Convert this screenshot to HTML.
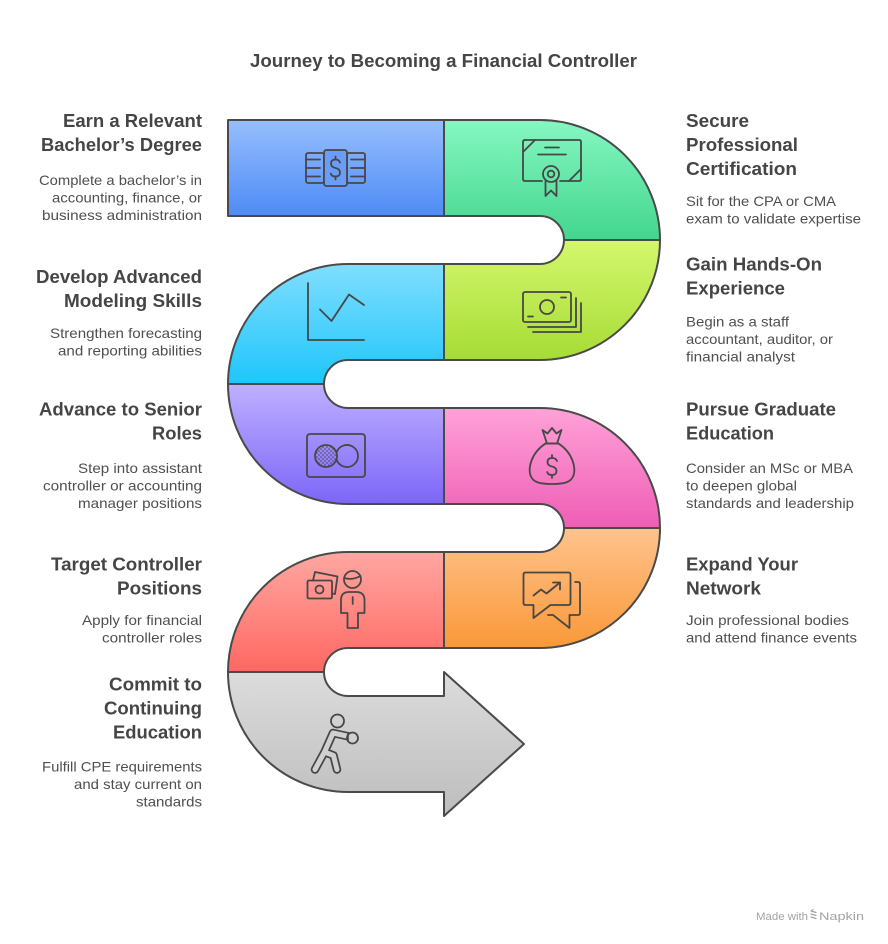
<!DOCTYPE html>
<html>
<head>
<meta charset="utf-8">
<style>
  html,body{margin:0;padding:0;background:#fff;}
  svg{display:block;}
  .h{font-family:"Liberation Sans",Arial,sans-serif;font-weight:bold;font-size:18px;fill:#454545;}
  .d{font-family:"Liberation Sans",Arial,sans-serif;font-size:14px;fill:#4f4f4f;}
  .seg{stroke:#4a4a4a;stroke-width:2;stroke-linejoin:round;}
  .ic{fill:none;stroke:#474747;stroke-width:1.8;stroke-linecap:round;stroke-linejoin:round;}
</style>
</head>
<body>
<svg width="888" height="944" viewBox="0 0 888 944" xmlns="http://www.w3.org/2000/svg">
  <defs>
    <linearGradient id="g1" gradientUnits="userSpaceOnUse" x1="0" y1="120" x2="0" y2="216">
      <stop offset="0" stop-color="#97befd"/><stop offset="1" stop-color="#4e8bf6"/>
    </linearGradient>
    <linearGradient id="g2" gradientUnits="userSpaceOnUse" x1="0" y1="120" x2="0" y2="240">
      <stop offset="0" stop-color="#86f7c2"/><stop offset="1" stop-color="#42d68d"/>
    </linearGradient>
    <linearGradient id="g3" gradientUnits="userSpaceOnUse" x1="0" y1="240" x2="0" y2="360">
      <stop offset="0" stop-color="#d4f76e"/><stop offset="1" stop-color="#a6dc35"/>
    </linearGradient>
    <linearGradient id="g4" gradientUnits="userSpaceOnUse" x1="0" y1="264" x2="0" y2="384">
      <stop offset="0" stop-color="#80defe"/><stop offset="1" stop-color="#1ec6fb"/>
    </linearGradient>
    <linearGradient id="g5" gradientUnits="userSpaceOnUse" x1="0" y1="384" x2="0" y2="504">
      <stop offset="0" stop-color="#bfb0ff"/><stop offset="1" stop-color="#7c66f8"/>
    </linearGradient>
    <linearGradient id="g6" gradientUnits="userSpaceOnUse" x1="0" y1="408" x2="0" y2="528">
      <stop offset="0" stop-color="#ffa2d8"/><stop offset="1" stop-color="#ef5db4"/>
    </linearGradient>
    <linearGradient id="g7" gradientUnits="userSpaceOnUse" x1="0" y1="528" x2="0" y2="648">
      <stop offset="0" stop-color="#ffc38d"/><stop offset="1" stop-color="#fa9838"/>
    </linearGradient>
    <linearGradient id="g8" gradientUnits="userSpaceOnUse" x1="0" y1="552" x2="0" y2="672">
      <stop offset="0" stop-color="#ffa7a2"/><stop offset="1" stop-color="#ff6862"/>
    </linearGradient>
    <linearGradient id="g9" gradientUnits="userSpaceOnUse" x1="0" y1="672" x2="0" y2="816">
      <stop offset="0" stop-color="#dcdcdc"/><stop offset="1" stop-color="#bdbdbd"/>
    </linearGradient>
    <pattern id="dots" patternUnits="userSpaceOnUse" width="4" height="4">
      <circle cx="1" cy="1" r="0.8" fill="#474747"/>
      <circle cx="3" cy="3" r="0.8" fill="#474747"/>
    </pattern>
  </defs>

  <!-- Title -->
  <text x="250" y="67" class="h" textLength="387" lengthAdjust="spacingAndGlyphs">Journey to Becoming a Financial Controller</text>

  <!-- Snake segments -->
  <path class="seg" fill="url(#g1)" d="M228,120 H444 V216 H228 Z"/>
  <path class="seg" fill="url(#g2)" d="M444,120 H540 A120,120 0 0 1 660,240 H564 A24,24 0 0 0 540,216 H444 Z"/>
  <path class="seg" fill="url(#g3)" d="M564,240 H660 A120,120 0 0 1 540,360 H444 V264 H540 A24,24 0 0 0 564,240 Z"/>
  <path class="seg" fill="url(#g4)" d="M444,264 V360 H348 A24,24 0 0 0 324,384 H228 A120,120 0 0 1 348,264 Z"/>
  <path class="seg" fill="url(#g5)" d="M228,384 H324 A24,24 0 0 0 348,408 H444 V504 H348 A120,120 0 0 1 228,384 Z"/>
  <path class="seg" fill="url(#g6)" d="M444,408 H540 A120,120 0 0 1 660,528 H564 A24,24 0 0 0 540,504 H444 Z"/>
  <path class="seg" fill="url(#g7)" d="M564,528 H660 A120,120 0 0 1 540,648 H444 V552 H540 A24,24 0 0 0 564,528 Z"/>
  <path class="seg" fill="url(#g8)" d="M444,552 V648 H348 A24,24 0 0 0 324,672 H228 A120,120 0 0 1 348,552 Z"/>
  <path class="seg" fill="url(#g9)" d="M228,672 H324 A24,24 0 0 0 348,696 H444 V672 L524,744 L444,816 V792 H348 A120,120 0 0 1 228,672 Z"/>

  <!-- Icon 1: money stack -->
  <g class="ic">
    <rect x="306" y="153" width="18" height="30" rx="2"/>
    <rect x="347" y="153" width="18" height="30" rx="2"/>
    <line x1="306" y1="159.5" x2="320" y2="159.5"/>
    <line x1="306" y1="168" x2="320" y2="168"/>
    <line x1="306" y1="176.5" x2="320" y2="176.5"/>
    <line x1="351" y1="159.5" x2="365" y2="159.5"/>
    <line x1="351" y1="168" x2="365" y2="168"/>
    <line x1="351" y1="176.5" x2="365" y2="176.5"/>
    <rect x="324" y="150" width="23" height="36" rx="2.5" fill="#6b9cf8"/>
    <path d="M340,162.5 Q339,159.5 335.5,159.5 Q331,159.5 331,163.5 Q331,167 335.5,168 Q340,169 340,172.5 Q340,176.5 335.5,176.5 Q331.5,176.5 330.8,173.5"/>
    <line x1="335.5" y1="156.5" x2="335.5" y2="159.5"/>
    <line x1="335.5" y1="176.5" x2="335.5" y2="179.5"/>
  </g>

  <!-- Icon 2: certificate -->
  <g class="ic">
    <path d="M525,140 H579 Q581,140 581,142 V179 Q581,181 579,181 H560"/>
    <path d="M542,181 H525 Q523,181 523,179 V142 Q523,140 525,140"/>
    <path d="M523,152 L535,140"/>
    <path d="M569,181 L581,169"/>
    <line x1="545" y1="147.5" x2="559" y2="147.5"/>
    <line x1="538" y1="154.5" x2="566" y2="154.5"/>
    <circle cx="551" cy="174" r="8"/>
    <circle cx="551" cy="174" r="3.3"/>
    <path d="M545.5,181 V196 L551,190.5 L556.5,196 V181"/>
  </g>

  <!-- Icon 3: chart -->
  <g class="ic">
    <path d="M308,283 V340 H364"/>
    <path d="M320,309.5 L331.5,321 L349,294.5 L364,305"/>
  </g>

  <!-- Icon 4: cash stack -->
  <g class="ic">
    <rect x="523" y="292" width="48" height="30" rx="2"/>
    <circle cx="547" cy="307" r="7"/>
    <line x1="561" y1="297.5" x2="566" y2="297.5"/>
    <line x1="528" y1="316.5" x2="533" y2="316.5"/>
    <path d="M576,298 V327 H528"/>
    <path d="M581,303 V332 H533"/>
  </g>

  <!-- Icon 5: card -->
  <g class="ic">
    <rect x="307" y="434" width="58" height="43" rx="3"/>
    <path d="M336.5,452.7 A11,11 0 1 1 336.5,459.3"/>
    <circle cx="326" cy="456" r="11" fill="url(#dots)"/>
  </g>

  <!-- Icon 6: money bag -->
  <g class="ic">
    <path d="M545.5,443.5 C531,453 528,468 530.5,475.5 C533,482.5 540,484 552,484 C564,484 571,482.5 573.5,475.5 C576,468 573,453 558.5,443.5 Z"/>
    <line x1="545.5" y1="443.5" x2="558.5" y2="443.5"/>
    <path d="M546.5,442 L542.5,430 L547.5,433.5 L552,428 L556.5,433.5 L561.5,430 L557.5,442"/>
    <path d="M557,461 Q556,458 552,458 Q547.5,458 547.5,462 Q547.5,465.5 552,466.5 Q556.5,467.5 556.5,471 Q556.5,475 552,475 Q548,475 547.2,472"/>
    <line x1="552" y1="455" x2="552" y2="458"/>
    <line x1="552" y1="475" x2="552" y2="478"/>
  </g>

  <!-- Icon 7: person with money -->
  <g class="ic">
    <path d="M313,580.5 L315,572 L337.5,576.5 L335,594 L332,593.5"/>
    <rect x="307.5" y="580.5" width="24.5" height="18" rx="1.5"/>
    <circle cx="319.5" cy="589.5" r="4"/>
    <circle cx="352.5" cy="579.5" r="8.5"/>
    <path d="M344.5,578 Q352,580.5 360.5,576"/>
    <path d="M347.5,628 V613 H341 V600 Q341,592 349,592 H356 Q364.5,592 364.5,600 V613 H358 V628 Z"/>
    <line x1="352.7" y1="597" x2="352.7" y2="604"/>
  </g>

  <!-- Icon 8: chat with chart -->
  <g class="ic">
    <path d="M525.5,572.5 H568.5 Q570.5,572.5 570.5,574.5 V603 Q570.5,605 568.5,605 H550.5 L533.5,618 V605 H525.5 Q523.5,605 523.5,603 V574.5 Q523.5,572.5 525.5,572.5 Z"/>
    <path d="M575,582 H578 Q580,582 580,584 V613 Q580,615 578,615 H569.5 V628 L553,615 H548"/>
    <path d="M533.5,595.5 L541,589.5 L546.5,593.5 L560,582.5"/>
    <path d="M553,582.5 H560 V589.5"/>
  </g>

  <!-- Icon 9: boxer -->
  <g fill="none" stroke-linecap="round" stroke-linejoin="round">
    <path d="M333,733 L324.5,752 L315,769.5 M324.5,752 L333.5,755.5 L337,769.5 M333,733 L349,736.5" stroke="#474747" stroke-width="8.5"/>
    <path d="M333,733 L324.5,752 L315,769.5 M324.5,752 L333.5,755.5 L337,769.5 M333,733 L349,736.5" stroke="#d0d0d0" stroke-width="5"/>
    <circle cx="352.5" cy="738" r="5.5" fill="#d0d0d0" stroke="#474747" stroke-width="1.8"/>
    <line x1="348" y1="733" x2="348" y2="741" stroke="#474747" stroke-width="1.6"/>
    <circle cx="337.5" cy="721" r="6.5" stroke="#474747" stroke-width="1.8"/>
  </g>

  <!-- Left texts -->
  <text class="h" x="63" y="127" textLength="139" lengthAdjust="spacingAndGlyphs">Earn a Relevant</text>
  <text class="h" x="41" y="151" textLength="161" lengthAdjust="spacingAndGlyphs">Bachelor’s Degree</text>
  <text class="d" x="39" y="185" textLength="163" lengthAdjust="spacingAndGlyphs">Complete a bachelor’s in</text>
  <text class="d" x="52" y="202.5" textLength="150" lengthAdjust="spacingAndGlyphs">accounting, finance, or</text>
  <text class="d" x="42" y="220" textLength="160" lengthAdjust="spacingAndGlyphs">business administration</text>

  <text class="h" x="36" y="283" textLength="166" lengthAdjust="spacingAndGlyphs">Develop Advanced</text>
  <text class="h" x="64" y="307" textLength="138" lengthAdjust="spacingAndGlyphs">Modeling Skills</text>
  <text class="d" x="50" y="338" textLength="152" lengthAdjust="spacingAndGlyphs">Strengthen forecasting</text>
  <text class="d" x="58" y="355.5" textLength="144" lengthAdjust="spacingAndGlyphs">and reporting abilities</text>

  <text class="h" x="39" y="415.5" textLength="163" lengthAdjust="spacingAndGlyphs">Advance to Senior</text>
  <text class="h" x="152" y="439.5" textLength="50" lengthAdjust="spacingAndGlyphs">Roles</text>
  <text class="d" x="78" y="473" textLength="124" lengthAdjust="spacingAndGlyphs">Step into assistant</text>
  <text class="d" x="43" y="490.5" textLength="159" lengthAdjust="spacingAndGlyphs">controller or accounting</text>
  <text class="d" x="78" y="508" textLength="124" lengthAdjust="spacingAndGlyphs">manager positions</text>

  <text class="h" x="51" y="570.5" textLength="151" lengthAdjust="spacingAndGlyphs">Target Controller</text>
  <text class="h" x="117" y="594.5" textLength="85" lengthAdjust="spacingAndGlyphs">Positions</text>
  <text class="d" x="82" y="625" textLength="120" lengthAdjust="spacingAndGlyphs">Apply for financial</text>
  <text class="d" x="102" y="642.5" textLength="100" lengthAdjust="spacingAndGlyphs">controller roles</text>

  <text class="h" x="109" y="690.5" textLength="93" lengthAdjust="spacingAndGlyphs">Commit to</text>
  <text class="h" x="104" y="714.5" textLength="98" lengthAdjust="spacingAndGlyphs">Continuing</text>
  <text class="h" x="113" y="738.5" textLength="89" lengthAdjust="spacingAndGlyphs">Education</text>
  <text class="d" x="42" y="771.5" textLength="160" lengthAdjust="spacingAndGlyphs">Fulfill CPE requirements</text>
  <text class="d" x="74" y="789" textLength="128" lengthAdjust="spacingAndGlyphs">and stay current on</text>
  <text class="d" x="136" y="806.5" textLength="66" lengthAdjust="spacingAndGlyphs">standards</text>

  <!-- Right texts -->
  <text class="h" x="686" y="127" textLength="63" lengthAdjust="spacingAndGlyphs">Secure</text>
  <text class="h" x="686" y="151" textLength="112" lengthAdjust="spacingAndGlyphs">Professional</text>
  <text class="h" x="686" y="175" textLength="111" lengthAdjust="spacingAndGlyphs">Certification</text>
  <text class="d" x="686" y="206" textLength="150" lengthAdjust="spacingAndGlyphs">Sit for the CPA or CMA</text>
  <text class="d" x="686" y="223.5" textLength="175" lengthAdjust="spacingAndGlyphs">exam to validate expertise</text>

  <text class="h" x="686" y="270.5" textLength="136" lengthAdjust="spacingAndGlyphs">Gain Hands-On</text>
  <text class="h" x="686" y="294.5" textLength="99" lengthAdjust="spacingAndGlyphs">Experience</text>
  <text class="d" x="686" y="326.5" textLength="103" lengthAdjust="spacingAndGlyphs">Begin as a staff</text>
  <text class="d" x="686" y="344" textLength="147" lengthAdjust="spacingAndGlyphs">accountant, auditor, or</text>
  <text class="d" x="686" y="361.5" textLength="109" lengthAdjust="spacingAndGlyphs">financial analyst</text>

  <text class="h" x="686" y="415.5" textLength="150" lengthAdjust="spacingAndGlyphs">Pursue Graduate</text>
  <text class="h" x="686" y="439.5" textLength="88" lengthAdjust="spacingAndGlyphs">Education</text>
  <text class="d" x="686" y="473" textLength="167" lengthAdjust="spacingAndGlyphs">Consider an MSc or MBA</text>
  <text class="d" x="686" y="490.5" textLength="111" lengthAdjust="spacingAndGlyphs">to deepen global</text>
  <text class="d" x="686" y="508" textLength="168" lengthAdjust="spacingAndGlyphs">standards and leadership</text>

  <text class="h" x="686" y="570.5" textLength="112" lengthAdjust="spacingAndGlyphs">Expand Your</text>
  <text class="h" x="686" y="594.5" textLength="75" lengthAdjust="spacingAndGlyphs">Network</text>
  <text class="d" x="686" y="625" textLength="163" lengthAdjust="spacingAndGlyphs">Join professional bodies</text>
  <text class="d" x="686" y="642.5" textLength="171" lengthAdjust="spacingAndGlyphs">and attend finance events</text>

  <!-- Footer -->
  <text x="756" y="920" font-family="Liberation Sans, Arial, sans-serif" font-size="11" fill="#a3a3a3" textLength="52" lengthAdjust="spacingAndGlyphs">Made with</text>
  <path d="M811,911 L816,912.5 M811,914 L816,915.5 M811,917 L816,918.5 M813,909.5 L811.5,911" stroke="#a3a3a3" stroke-width="1.2" fill="none" stroke-linecap="round"/>
  <text x="819" y="920" font-family="Liberation Sans, Arial, sans-serif" font-size="11" fill="#a3a3a3" textLength="45" lengthAdjust="spacingAndGlyphs">Napkin</text>
</svg>
</body>
</html>
